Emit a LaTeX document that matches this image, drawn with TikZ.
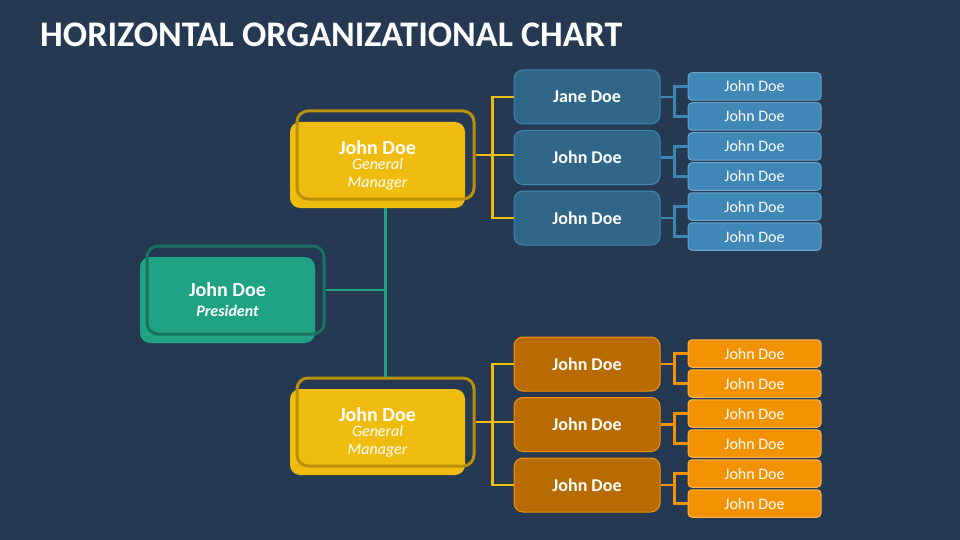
\documentclass[tikz,border=0pt]{standalone}
\usepackage{fontspec}
\setmainfont{Carlito}

\definecolor{navy}{HTML}{253A52}
\definecolor{presfill}{HTML}{1FA384}
\definecolor{presline}{HTML}{17725E}
\definecolor{gmfill}{HTML}{F0BC0F}
\definecolor{gmline}{HTML}{B89109}
\definecolor{bluemidfill}{HTML}{306788}
\definecolor{blueline}{HTML}{3D86B3}
\definecolor{bluesmallfill}{HTML}{3F87B6}
\definecolor{bluesmallline}{HTML}{6AA5CF}
\definecolor{orangemidfill}{HTML}{B86B00}
\definecolor{orangeline}{HTML}{F39200}
\definecolor{orangesmallfill}{HTML}{F39200}
\definecolor{orangesmallline}{HTML}{F8B450}

\tikzset{
  bigbox/.style={rounded corners=10pt, minimum width=175pt, minimum height=86pt,
    inner sep=0pt, text=white, align=center, font=\fontsize{16}{18}\selectfont},
  bigframe/.style={draw, line width=3pt, rounded corners=11pt,
    minimum width=177pt, minimum height=88pt, inner sep=0pt},
  midbox/.style={draw, line width=1pt, rounded corners=9pt, minimum width=146pt,
    minimum height=54pt, inner sep=0pt, text=white, font=\fontsize{18}{20}\selectfont\bfseries},
  smallbox/.style={draw, line width=1pt, rounded corners=4pt, minimum width=133pt,
    minimum height=27.5pt, inner sep=0pt, text=white, font=\fontsize{16}{18}\selectfont},
  link/.style={line width=2.4pt},
}

\begin{document}
\begin{tikzpicture}[x=1pt, y=-1pt]
  \fill[navy] (0,0) rectangle (960,540);
  \node[anchor=base west, text=white, font=\fontsize{36}{38}\selectfont\bfseries, inner sep=0pt]
    (title) at (40,47) {HORIZONTAL ORGANIZATIONAL CHART};

  % president
  \node[bigbox, fill=presfill, font=\fontsize{16}{20}\selectfont] (pres) at (227.5,300)
    {{\fontsize{20}{20}\selectfont\bfseries John Doe}\\{\bfseries\itshape President}};
  \node[bigframe, draw=presline] (presframe) at (235.5,290) {};

  % general managers
  \node[bigbox, fill=gmfill] (gm1) at (377.5,165)
    {{\fontsize{20}{20}\selectfont\bfseries John Doe}\\[-3pt]{\itshape General}\\{\itshape Manager}};
  \node[bigframe, draw=gmline] (gm1frame) at (385.5,155) {};
  \node[bigbox, fill=gmfill] (gm2) at (377.5,432)
    {{\fontsize{20}{20}\selectfont\bfseries John Doe}\\[-3pt]{\itshape General}\\{\itshape Manager}};
  \node[bigframe, draw=gmline] (gm2frame) at (385.5,422) {};

  \draw[link, presfill] (presframe.east) -- (presframe.east -| gm1frame.center);
  \draw[link, presfill] (gm1frame.center |- gm1.south) -- (gm2frame.north);

  % upper team
  \node[midbox, fill=bluemidfill, draw=blueline] (m1) at (587,97) {Jane Doe};
  \node[midbox, fill=bluemidfill, draw=blueline] (m2) at (587,157.5) {John Doe};
  \node[midbox, fill=bluemidfill, draw=blueline] (m3) at (587,218) {John Doe};

  \node[smallbox, fill=bluesmallfill, draw=bluesmallline] (s1) at (754.5,86.5) {John Doe};
  \node[smallbox, fill=bluesmallfill, draw=bluesmallline] (s2) at (754.5,116.5) {John Doe};
  \node[smallbox, fill=bluesmallfill, draw=bluesmallline] (s3) at (754.5,146.5) {John Doe};
  \node[smallbox, fill=bluesmallfill, draw=bluesmallline] (s4) at (754.5,176.5) {John Doe};
  \node[smallbox, fill=bluesmallfill, draw=bluesmallline] (s5) at (754.5,206.5) {John Doe};
  \node[smallbox, fill=bluesmallfill, draw=bluesmallline] (s6) at (754.5,236.5) {John Doe};

  \draw[link, gmfill] (gm1frame.east) -- (gm1frame.east -| m2.west);
  \draw[link, gmfill] (m1.west) -- ++(-21,0) |- (m3.west);

  \draw[link, blueline] (m1.east) -- ++(14,0) coordinate (j1) (s1.west) -| (j1) |- (s2.west);
  \draw[link, blueline] (m2.east) -- ++(14,0) coordinate (j2) (s3.west) -| (j2) |- (s4.west);
  \draw[link, blueline] (m3.east) -- ++(14,0) coordinate (j3) (s5.west) -| (j3) |- (s6.west);

  % lower team
  \node[midbox, fill=orangemidfill, draw=orangeline] (m4) at (587,364) {John Doe};
  \node[midbox, fill=orangemidfill, draw=orangeline] (m5) at (587,424.5) {John Doe};
  \node[midbox, fill=orangemidfill, draw=orangeline] (m6) at (587,485) {John Doe};

  \node[smallbox, fill=orangesmallfill, draw=orangesmallline] (s7) at (754.5,353.5) {John Doe};
  \node[smallbox, fill=orangesmallfill, draw=orangesmallline] (s8) at (754.5,383.5) {John Doe};
  \node[smallbox, fill=orangesmallfill, draw=orangesmallline] (s9) at (754.5,413.5) {John Doe};
  \node[smallbox, fill=orangesmallfill, draw=orangesmallline] (s10) at (754.5,443.5) {John Doe};
  \node[smallbox, fill=orangesmallfill, draw=orangesmallline] (s11) at (754.5,473.5) {John Doe};
  \node[smallbox, fill=orangesmallfill, draw=orangesmallline] (s12) at (754.5,503.5) {John Doe};

  \draw[link, gmfill] (gm2frame.east) -- (gm2frame.east -| m5.west);
  \draw[link, gmfill] (m4.west) -- ++(-21,0) |- (m6.west);

  \draw[link, orangeline] (m4.east) -- ++(14,0) coordinate (j4) (s7.west) -| (j4) |- (s8.west);
  \draw[link, orangeline] (m5.east) -- ++(14,0) coordinate (j5) (s9.west) -| (j5) |- (s10.west);
  \draw[link, orangeline] (m6.east) -- ++(14,0) coordinate (j6) (s11.west) -| (j6) |- (s12.west);
\end{tikzpicture}
\end{document}
